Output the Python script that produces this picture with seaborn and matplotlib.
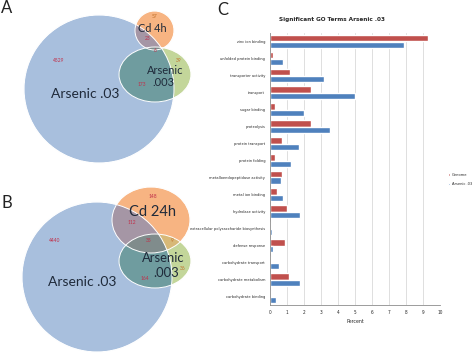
import numpy as np
import pandas as pd
import matplotlib.pyplot as plt
import seaborn as sns
from matplotlib.patches import Ellipse
from matplotlib.font_manager import FontProperties

# GO term bar chart data (percent)
terms = ["zinc ion binding", "unfolded protein binding", "transporter activity",
         "transport", "sugar binding", "proteolysis", "protein transport",
         "protein folding", "metalloendopeptidase activity", "metal ion binding",
         "hydrolase activity", "extracellular polysaccharide biosynthesis",
         "defense response", "carbohydrate transport", "carbohydrate metabolism",
         "carbohydrate binding"]
genome = [9.3, 0.2, 1.2, 2.4, 0.3, 2.4, 0.7, 0.3, 0.7, 0.4, 1.0, 0.03, 0.9, 0.05, 1.1, 0.05]
arsenic = [7.9, 0.75, 3.2, 5.0, 2.0, 3.5, 1.7, 1.25, 0.65, 0.75, 1.75, 0.12, 0.2, 0.5, 1.75, 0.35]
series = ["Genome", "Arsenic .03"]

# Venn counts
counts_a = ["4529", "57", "23", "6", "39", "173"]
counts_b = ["4440", "148", "112", "35", "9", "36", "164"]

sns.set_style("white")
plt.rcParams["font.family"] = ["Lato", "DejaVu Sans"]


def narrow(size, weight="normal"):
    return FontProperties(family="DejaVu Sans", stretch="condensed", size=size, weight=weight)


fig = plt.figure(figsize=(4.74, 3.56), dpi=100)
ax0 = fig.add_axes([0, 0, 1, 1])
ax0.set_xlim(0, 474)
ax0.set_ylim(356, 0)
ax0.axis("off")

# circles in pixel coords: (cx, cy, rx, ry)
blue_a, orange_a, green_a = (99, 89, 75, 74), (154.5, 30.5, 19.5, 19.5), (155, 74.5, 36, 27.5)
blue_b, orange_b, green_b = (97, 277, 75, 75), (151, 220, 39, 33), (155, 261, 36, 27)

xs = np.arange(0, 474, 0.5) + 0.25
ys = np.arange(0, 356, 0.5) + 0.25
X, Y = np.meshgrid(xs, ys)


def inside(e):
    cx, cy, rx, ry = e
    return ((X - cx) / rx) ** 2 + ((Y - cy) / ry) ** 2 <= 1


code = np.zeros(X.shape, dtype=int)
for b, o, g in [(blue_a, orange_a, green_a), (blue_b, orange_b, green_b)]:
    code += inside(b) * 1 + inside(o) * 2 + inside(g) * 4

lut = np.array([
    [255, 255, 255, 0],
    [168, 191, 222, 255],
    [247, 180, 130, 255],
    [165, 150, 165, 255],
    [196, 214, 155, 255],
    [112, 156, 160, 255],
    [215, 185, 120, 255],
    [128, 140, 140, 255],
]) / 255.0
ax0.imshow(lut[code], extent=(0, 474, 356, 0), interpolation="bilinear", zorder=1)

for e in [orange_a, green_a, blue_a, orange_b, green_b, blue_b]:
    ax0.add_patch(Ellipse((e[0], e[1]), 2 * e[2], 2 * e[3], fill=False,
                          edgecolor="white", lw=0.7, zorder=2))

dark = "#1f2a3a"
red = "#c0304a"
orng = "#c0702a"

# panel letters
ax0.text(7, 8, "A", fontsize=12, color="#222222", ha="center", va="center", zorder=3)
ax0.text(7, 203, "B", fontsize=12, color="#222222", ha="center", va="center", zorder=3)
ax0.text(223, 10, "C", fontsize=12, color="#222222", ha="center", va="center", zorder=3)

# venn A labels
ax0.text(85, 94, "Arsenic .03", fontsize=10, color=dark, ha="center", va="center", zorder=3)
ax0.text(152, 28, "Cd 4h", fontsize=7.8, color=dark, ha="center", va="center", zorder=3)
ax0.text(165, 70, "Arsenic", fontsize=8, color=dark, ha="center", va="center", zorder=3)
ax0.text(163, 83, ".003", fontsize=8, color=dark, ha="center", va="center", zorder=3)
pos_a = [(59, 60), (155, 16), (148, 39), (155, 50), (179, 61), (142, 85)]
col_a = [red, orng, red, red, orng, red]
for t, (x, y), c in zip(counts_a, pos_a, col_a):
    ax0.text(x, y, t, fontsize=3.5, color=c, ha="center", va="center", zorder=3)

# venn B labels
ax0.text(82, 282, "Arsenic .03", fontsize=10, color=dark, ha="center", va="center", zorder=3)
ax0.text(153, 212, "Cd 24h", fontsize=10.5, color=dark, ha="center", va="center", zorder=3)
ax0.text(163, 258, "Arsenic", fontsize=9.4, color=dark, ha="center", va="center", zorder=3)
ax0.text(166, 273, ".003", fontsize=9.4, color=dark, ha="center", va="center", zorder=3)
pos_b = [(55, 240), (153, 196), (132, 223), (149, 241), (172, 241), (183, 269), (145, 278)]
col_b = [red, red, red, red, orng, orng, red]
for t, (x, y), c in zip(counts_b, pos_b, col_b):
    ax0.text(x, y, t, fontsize=3.5, color=c, ha="center", va="center", zorder=3)

# bar chart C
top_px, bot_px = 33, 305
ax = fig.add_axes([270 / 474, 1 - bot_px / 356, 170 / 474, (bot_px - top_px) / 356])
ax.set_facecolor("none")
df = pd.DataFrame({
    "term": terms * 2,
    "percent": genome + arsenic,
    "series": [series[0]] * len(terms) + [series[1]] * len(terms),
})
sns.barplot(data=df, x="percent", y="term", hue="series", order=terms,
            hue_order=series, palette=["#c0504d", "#4f81bd"], orient="h",
            saturation=1, width=0.8, ax=ax)
ax.set_xlim(0, 10)
ax.set_xticks(range(11))
ax.xaxis.grid(True, color="#d9d9d9", lw=0.6)
ax.set_axisbelow(True)
for s in ["top", "right"]:
    ax.spines[s].set_visible(False)
for s in ["left", "bottom"]:
    ax.spines[s].set_color("#8c8c8c")
    ax.spines[s].set_linewidth(0.6)
ax.tick_params(axis="both", length=1.5, width=0.4, color="#8c8c8c", pad=2)
ax.set_ylabel("")
ax.set_xlabel("Percent", fontproperties=narrow(3.8), labelpad=3)
for lab in ax.get_yticklabels():
    lab.set_fontproperties(narrow(2.9))
for lab in ax.get_xticklabels():
    lab.set_fontproperties(narrow(3.4))

handles, labels = ax.get_legend_handles_labels()
ax.legend(handles, labels, loc="upper left", bbox_to_anchor=(446 / 474, 1 - 171 / 356),
          bbox_transform=fig.transFigure, frameon=False,
          prop=narrow(2.9), handlelength=0.6, handleheight=0.6,
          handletextpad=0.3, labelspacing=1.3, borderpad=0)

fig.text(332 / 474, 1 - 20 / 356, "Significant GO Terms Arsenic .03",
         fontproperties=narrow(4.6, "bold"), ha="center", va="center")

fig.savefig("out.png", dpi=100)
